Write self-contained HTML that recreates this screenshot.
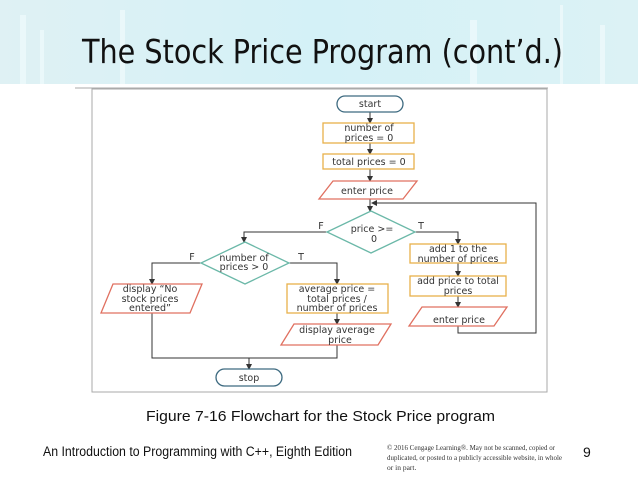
<!DOCTYPE html>
<html><head><meta charset="utf-8"><style>
html,body{margin:0;padding:0;background:#fff;}
svg{display:block;}
</style></head><body>
<svg width="638" height="478" viewBox="0 0 638 478" xmlns="http://www.w3.org/2000/svg" font-family="Liberation Sans, sans-serif">
<defs>
<linearGradient id="bg" x1="0" y1="0" x2="1" y2="0">
<stop offset="0" stop-color="#dff1f4"/><stop offset="0.5" stop-color="#d4f1f7"/><stop offset="1" stop-color="#dcf2f5"/>
</linearGradient>
<marker id="a" markerWidth="6" markerHeight="6" refX="5" refY="3" orient="auto" markerUnits="userSpaceOnUse"><path d="M0,0 L6,3 L0,6 z" fill="#333"/></marker>
</defs>
<rect x="0" y="0" width="638" height="84" fill="url(#bg)"/>
<g fill="#eefafc" opacity="0.8">
<rect x="20" y="15" width="6" height="69"/><rect x="40" y="30" width="4" height="54"/><rect x="120" y="10" width="5" height="74"/><rect x="470" y="20" width="7" height="64"/><rect x="600" y="25" width="5" height="59"/><rect x="560" y="5" width="3" height="79"/>
</g>
<text x="82" y="63" font-family="DejaVu Sans Condensed, DejaVu Sans, sans-serif" font-size="33" fill="#111" textLength="481" lengthAdjust="spacingAndGlyphs">The Stock Price Program (cont’d.)</text>
<line x1="75" y1="88" x2="548" y2="88" stroke="#aaa" stroke-width="1"/>
<rect x="92" y="89" width="455" height="303" fill="#fff" stroke="#aaa" stroke-width="1"/>

<g fill="none" stroke="#333" stroke-width="1">
<line x1="370" y1="112" x2="370" y2="123" marker-end="url(#a)"/>
<line x1="370" y1="143" x2="370" y2="154" marker-end="url(#a)"/>
<line x1="370" y1="169" x2="370" y2="181" marker-end="url(#a)"/>
<line x1="370" y1="199" x2="370" y2="211" marker-end="url(#a)"/>
<polyline points="458,326 458,333 536,333 536,203 372,203" marker-end="url(#a)"/>
<polyline points="327,232 244,232 244,242" marker-end="url(#a)"/>
<polyline points="415,232 458,232 458,244" marker-end="url(#a)"/>
<line x1="458" y1="263" x2="458" y2="276" marker-end="url(#a)"/>
<line x1="458" y1="296" x2="458" y2="307" marker-end="url(#a)"/>
<polyline points="201,263 152,263 152,284" marker-end="url(#a)"/>
<polyline points="289,263 337,263 337,284" marker-end="url(#a)"/>
<line x1="337" y1="313" x2="337" y2="324" marker-end="url(#a)"/>
<polyline points="152,313 152,358 337,358 337,345"/>
<line x1="249" y1="358" x2="249" y2="369" marker-end="url(#a)"/>
</g>

<g stroke-width="1.3" fill="#fff">
<rect x="337" y="96" width="66" height="16" rx="8" stroke="#3d6a80"/>
<rect x="216" y="369" width="66" height="17" rx="8.5" stroke="#3d6a80"/>
<rect x="323" y="123" width="91" height="20" stroke="#e8b04a"/>
<rect x="323" y="154" width="91" height="15" stroke="#e8b04a"/>
<rect x="410" y="244" width="96" height="19" stroke="#e8b04a"/>
<rect x="410" y="276" width="96" height="20" stroke="#e8b04a"/>
<rect x="287" y="284" width="101" height="29" stroke="#e8b04a"/>
<polygon points="333,181 417,181 403,199 319,199" stroke="#e07060"/>
<polygon points="422,307 507,307 494,326 409,326" stroke="#e07060"/>
<polygon points="113,284 202,284 190,313 101,313" stroke="#e07060"/>
<polygon points="294,324 391,324 378,345 281,345" stroke="#e07060"/>
<polygon points="371,211 415,232 371,253 327,232" stroke="#6bb8a8"/>
<polygon points="245,242 289,263 245,284 201,263" stroke="#6bb8a8"/>
</g>

<g font-family="DejaVu Sans, sans-serif" font-size="9.5" fill="#333" text-anchor="middle">
<text x="370" y="107">start</text>
<text x="249" y="381">stop</text>
<text x="369" y="131">number of</text><text x="369" y="141">prices = 0</text>
<text x="369" y="165">total prices = 0</text>
<text x="367" y="194">enter price</text>
<text x="459" y="323">enter price</text>
<text x="458" y="252">add 1 to the</text><text x="458" y="262">number of prices</text>
<text x="458" y="284">add price to total</text><text x="458" y="294">prices</text>
<text x="337" y="292">average price =</text><text x="337" y="302">total prices /</text><text x="337" y="311">number of prices</text>
<text x="150" y="292">display “No</text><text x="150" y="302">stock prices</text><text x="150" y="311">entered”</text>
<text x="337" y="333">display average</text><text x="340" y="343">price</text>
<text x="372" y="232">price &gt;=</text><text x="374" y="242">0</text>
<text x="244" y="261">number of</text><text x="244" y="270">prices &gt; 0</text>
<text x="321" y="229">F</text><text x="421" y="229">T</text>
<text x="192" y="260">F</text><text x="301" y="260">T</text>
</g>

<text x="146" y="421" font-size="15" fill="#111" textLength="349" lengthAdjust="spacingAndGlyphs">Figure 7-16 Flowchart for the Stock Price program</text>
<text x="43" y="456" font-size="13.5" fill="#111" textLength="309" lengthAdjust="spacingAndGlyphs">An Introduction to Programming with C++, Eighth Edition</text>
<g font-family="Liberation Serif, serif" font-size="7.5" fill="#333">
<text x="387" y="450" textLength="168" lengthAdjust="spacingAndGlyphs">© 2016 Cengage Learning®. May not be scanned, copied or</text>
<text x="387" y="460" textLength="175" lengthAdjust="spacingAndGlyphs">duplicated, or posted to a publicly accessible website, in whole</text>
<text x="387" y="470">or in part.</text>
</g>
<text x="583" y="457" font-size="14" fill="#111">9</text>
</svg>
</body></html>
